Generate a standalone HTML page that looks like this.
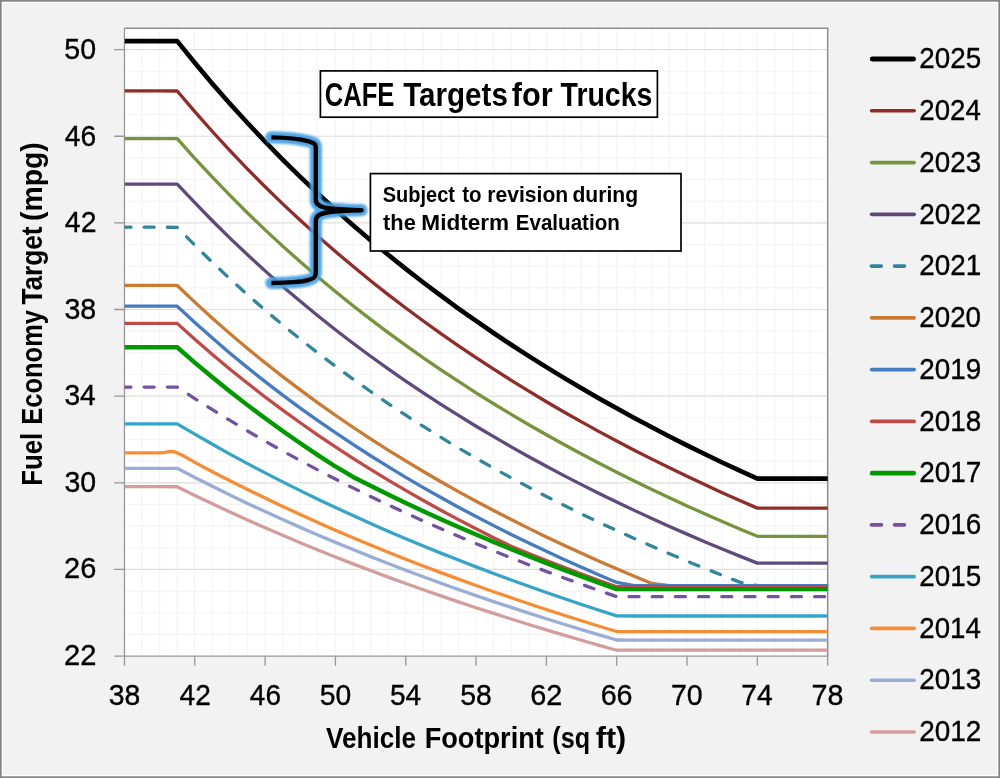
<!DOCTYPE html>
<html lang="en"><head><meta charset="utf-8"><title>CAFE Targets for Trucks</title>
<style>html,body{margin:0;padding:0;background:#f2f2f2;}body{width:1000px;height:778px;overflow:hidden;}svg{display:block;}text{font-family:"Liberation Sans",Arial,sans-serif;}</style>
</head><body>
<svg width="1000" height="778" viewBox="0 0 1000 778">
<defs><filter id="glow" x="-30%" y="-30%" width="160%" height="160%"><feGaussianBlur stdDeviation="1.2"/></filter>
<clipPath id="plotclip"><rect x="124.47" y="28.30" width="703.80" height="627.77"/></clipPath></defs>
<rect x="0" y="0" width="1000" height="778" fill="#868686"/>
<rect x="1.7" y="1.7" width="996.6" height="774.6" fill="#ffffff"/>
<rect x="3" y="3" width="994" height="772" fill="#f2f2f2"/>
<rect x="124.47" y="28.30" width="703.20" height="627.77" fill="#ffffff"/>
<path d="M142.05 28.30V656.07M159.63 28.30V656.07M177.21 28.30V656.07M194.79 28.30V656.07M212.37 28.30V656.07M229.95 28.30V656.07M247.53 28.30V656.07M265.11 28.30V656.07M282.69 28.30V656.07M300.27 28.30V656.07M317.85 28.30V656.07M335.43 28.30V656.07M353.01 28.30V656.07M370.59 28.30V656.07M388.17 28.30V656.07M405.75 28.30V656.07M423.33 28.30V656.07M440.91 28.30V656.07M458.49 28.30V656.07M476.07 28.30V656.07M493.65 28.30V656.07M511.23 28.30V656.07M528.81 28.30V656.07M546.39 28.30V656.07M563.97 28.30V656.07M581.55 28.30V656.07M599.13 28.30V656.07M616.71 28.30V656.07M634.29 28.30V656.07M651.87 28.30V656.07M669.45 28.30V656.07M687.03 28.30V656.07M704.61 28.30V656.07M722.19 28.30V656.07M739.77 28.30V656.07M757.35 28.30V656.07M774.93 28.30V656.07M792.51 28.30V656.07M810.09 28.30V656.07M124.47 634.41H827.67M124.47 612.75H827.67M124.47 591.09H827.67M124.47 547.77H827.67M124.47 526.11H827.67M124.47 504.45H827.67M124.47 461.13H827.67M124.47 439.47H827.67M124.47 417.81H827.67M124.47 374.49H827.67M124.47 352.83H827.67M124.47 331.17H827.67M124.47 287.85H827.67M124.47 266.19H827.67M124.47 244.53H827.67M124.47 201.21H827.67M124.47 179.55H827.67M124.47 157.89H827.67M124.47 114.57H827.67M124.47 92.91H827.67M124.47 71.25H827.67" stroke="#f4f4f4" stroke-width="1.1" fill="none"/>
<path d="M124.47 569.43H827.67M124.47 482.79H827.67M124.47 396.15H827.67M124.47 309.51H827.67M124.47 222.87H827.67M124.47 136.23H827.67M124.47 49.59H827.67" stroke="#dedede" stroke-width="1.2" fill="none"/>
<path d="M124.47 28.30H827.67V656.07" stroke="#8e8e8e" stroke-width="1.5" fill="none"/>
<path d="M124.47 28.30V656.07M124.47 656.07H827.67M114.17 656.07H124.47M114.17 569.43H124.47M114.17 482.79H124.47M114.17 396.15H124.47M114.17 309.51H124.47M114.17 222.87H124.47M114.17 136.23H124.47M114.17 49.59H124.47M124.47 656.07V665.87M194.79 656.07V665.87M265.11 656.07V665.87M335.43 656.07V665.87M405.75 656.07V665.87M476.07 656.07V665.87M546.39 656.07V665.87M616.71 656.07V665.87M687.03 656.07V665.87M757.35 656.07V665.87M827.67 656.07V665.87" stroke="#979797" stroke-width="1.3" fill="none"/>
<g clip-path="url(#plotclip)" fill="none" stroke-linejoin="round">
<polyline points="124.47,41.14 142.05,41.14 159.63,41.14 177.21,41.14 194.79,62.80 212.37,83.65 229.95,103.71 247.53,123.01 265.11,141.60 282.69,159.52 300.27,176.80 317.85,193.48 335.43,209.59 353.01,225.16 370.59,240.20 388.17,254.76 405.75,268.85 423.33,282.49 440.91,295.71 458.49,308.53 476.07,320.96 493.65,333.02 511.23,344.72 528.81,356.09 546.39,367.14 563.97,377.87 581.55,388.31 599.13,398.46 616.71,408.34 634.29,417.96 651.87,427.33 669.45,436.45 687.03,445.34 704.61,454.01 722.19,462.46 739.77,470.70 757.35,478.67 774.93,478.67 792.51,478.67 810.09,478.67 827.67,478.67" stroke="#000000" stroke-width="4.6"/>
<polyline points="124.47,90.96 142.05,90.96 159.63,90.96 177.21,90.99 194.79,111.66 212.37,131.53 229.95,150.63 247.53,169.02 265.11,186.74 282.69,203.81 300.27,220.28 317.85,236.18 335.43,251.53 353.01,266.36 370.59,280.71 388.17,294.58 405.75,308.01 423.33,321.02 440.91,333.62 458.49,345.84 476.07,357.69 493.65,369.19 511.23,380.35 528.81,391.19 546.39,401.72 563.97,411.96 581.55,421.91 599.13,431.60 616.71,441.02 634.29,450.19 651.87,459.12 669.45,467.83 687.03,476.31 704.61,484.57 722.19,492.63 739.77,500.49 757.35,508.13 774.93,508.13 792.51,508.13 810.09,508.13 827.67,508.13" stroke="#8f2d2a" stroke-width="3.3"/>
<polyline points="124.47,138.61 142.05,138.61 159.63,138.61 177.21,138.62 194.79,158.31 212.37,177.23 229.95,195.44 247.53,212.96 265.11,229.84 282.69,246.11 300.27,261.81 317.85,276.96 335.43,291.59 353.01,305.73 370.59,319.40 388.17,332.63 405.75,345.43 423.33,357.83 440.91,369.84 458.49,381.49 476.07,392.79 493.65,403.75 511.23,414.40 528.81,424.73 546.39,434.78 563.97,444.54 581.55,454.03 599.13,463.27 616.71,472.25 634.29,481.00 651.87,489.52 669.45,497.82 687.03,505.91 704.61,513.79 722.19,521.48 739.77,528.98 757.35,536.29 774.93,536.29 792.51,536.29 810.09,536.29 827.67,536.29" stroke="#77933c" stroke-width="3.3"/>
<polyline points="124.47,184.10 142.05,184.10 159.63,184.10 177.21,184.10 194.79,202.71 212.37,220.75 229.95,238.10 247.53,254.80 265.11,270.88 282.69,286.39 300.27,301.35 317.85,315.80 335.43,329.74 353.01,343.22 370.59,356.26 388.17,368.87 405.75,381.08 423.33,392.90 440.91,404.36 458.49,415.46 476.07,426.24 493.65,436.69 511.23,446.84 528.81,456.70 546.39,466.28 563.97,475.59 581.55,484.65 599.13,493.45 616.71,502.03 634.29,510.37 651.87,518.50 669.45,526.42 687.03,534.13 704.61,541.65 722.19,548.99 739.77,556.14 757.35,563.13 774.93,563.15 792.51,563.15 810.09,563.15 827.67,563.15" stroke="#604a7b" stroke-width="3.3"/>
<polyline points="124.47,227.20 142.05,227.20 159.63,227.20 177.21,227.30 194.79,245.18 212.37,262.36 229.95,278.89 247.53,294.81 265.11,310.14 282.69,324.92 300.27,339.18 317.85,352.95 335.43,366.24 353.01,379.09 370.59,391.52 388.17,403.54 405.75,415.18 423.33,426.45 440.91,437.38 458.49,447.97 476.07,458.24 493.65,468.21 511.23,477.89 528.81,487.29 546.39,496.43 563.97,505.31 581.55,513.94 599.13,522.35 616.71,530.52 634.29,538.48 651.87,546.23 669.45,553.79 687.03,561.15 704.61,568.32 722.19,575.32 739.77,582.15 757.35,585.68 774.93,585.68 792.51,585.68 810.09,585.68 827.67,585.68" stroke="#31859c" stroke-width="3.3" stroke-dasharray="10 13.2" stroke-dashoffset="3.5" stroke-linecap="round"/>
<polyline points="124.47,285.47 142.05,285.47 159.63,285.47 177.21,285.47 194.79,302.13 212.37,318.18 229.95,333.62 247.53,348.49 265.11,362.81 282.69,376.62 300.27,389.94 317.85,402.81 335.43,415.23 353.01,427.24 370.59,438.85 388.17,450.08 405.75,460.96 423.33,471.50 440.91,481.71 458.49,491.61 476.07,501.21 493.65,510.53 511.23,519.58 528.81,528.37 546.39,536.91 563.97,545.22 581.55,553.29 599.13,561.15 616.71,568.79 634.29,576.24 651.87,583.48 669.45,585.68 687.03,585.68 704.61,585.68 722.19,585.68 739.77,585.68 757.35,585.68 774.93,585.68 792.51,585.68 810.09,585.68 827.67,585.68" stroke="#c97a33" stroke-width="3.3"/>
<polyline points="124.47,306.04 142.05,306.04 159.63,306.04 177.21,306.17 194.79,322.45 212.37,338.09 229.95,353.14 247.53,367.64 265.11,381.60 282.69,395.07 300.27,408.05 317.85,420.59 335.43,432.71 353.01,444.41 370.59,455.74 388.17,466.69 405.75,477.30 423.33,487.57 440.91,497.53 458.49,507.18 476.07,516.55 493.65,525.64 511.23,534.46 528.81,543.03 546.39,551.36 563.97,559.46 581.55,567.34 599.13,575.00 616.71,582.45 634.29,585.68 651.87,585.68 669.45,585.68 687.03,585.68 704.61,585.68 722.19,585.68 739.77,585.68 757.35,585.68 774.93,585.68 792.51,585.68 810.09,585.68 827.67,585.68" stroke="#457bbf" stroke-width="3.3"/>
<polyline points="124.47,323.37 142.05,323.37 159.63,323.37 177.21,323.37 194.79,339.20 212.37,354.47 229.95,369.17 247.53,383.32 265.11,396.95 282.69,410.10 300.27,422.78 317.85,435.03 335.43,446.86 353.01,458.30 370.59,469.36 388.17,480.07 405.75,490.44 423.33,500.48 440.91,510.21 458.49,519.65 476.07,528.80 493.65,537.69 511.23,546.31 528.81,553.64 546.39,560.59 563.97,567.38 581.55,574.00 599.13,580.48 616.71,586.76 634.29,586.76 651.87,586.76 669.45,586.76 687.03,586.76 704.61,586.76 722.19,586.76 739.77,586.76 757.35,586.76 774.93,586.76 792.51,586.76 810.09,586.76 827.67,586.76" stroke="#be4b48" stroke-width="3.3"/>
<polyline points="124.47,347.20 142.05,347.20 159.63,347.20 177.21,347.28 194.79,362.59 212.37,377.31 229.95,391.48 247.53,405.13 265.11,418.29 282.69,430.98 300.27,443.22 317.85,455.05 335.43,466.48 353.01,476.93 370.59,485.83 388.17,494.50 405.75,502.93 423.33,511.14 440.91,519.14 458.49,526.94 476.07,534.54 493.65,541.96 511.23,549.19 528.81,556.24 546.39,563.13 563.97,569.86 581.55,576.43 599.13,582.84 616.71,589.11 634.29,589.14 651.87,589.14 669.45,589.14 687.03,589.14 704.61,589.14 722.19,589.14 739.77,589.14 757.35,589.14 774.93,589.14 792.51,589.14 810.09,589.14 827.67,589.14" stroke="#009900" stroke-width="4.4"/>
<polyline points="124.47,387.05 142.05,387.05 159.63,387.05 177.21,387.05 194.79,398.51 212.37,409.65 229.95,420.45 247.53,430.94 265.11,441.12 282.69,451.01 300.27,460.62 317.85,469.97 335.43,479.06 353.01,487.90 370.59,496.51 388.17,504.89 405.75,513.05 423.33,521.00 440.91,528.75 458.49,536.31 476.07,543.68 493.65,550.87 511.23,557.89 528.81,564.74 546.39,571.42 563.97,577.96 581.55,584.34 599.13,590.58 616.71,596.67 634.29,596.72 651.87,596.72 669.45,596.72 687.03,596.72 704.61,596.72 722.19,596.72 739.77,596.72 757.35,596.72 774.93,596.72 792.51,596.72 810.09,596.72 827.67,596.72" stroke="#7352a0" stroke-width="3.3" stroke-dasharray="10 13.2" stroke-dashoffset="3.5" stroke-linecap="round"/>
<polyline points="124.47,423.87 142.05,423.87 159.63,423.87 177.21,423.87 194.79,434.18 212.37,444.27 229.95,454.07 247.53,463.60 265.11,472.86 282.69,481.87 300.27,490.64 317.85,499.17 335.43,507.48 353.01,515.58 370.59,523.46 388.17,531.15 405.75,538.65 423.33,545.96 440.91,553.10 458.49,560.06 476.07,566.86 493.65,573.50 511.23,579.98 528.81,586.32 546.39,592.51 563.97,598.56 581.55,604.48 599.13,610.27 616.71,615.94 634.29,616.00 651.87,616.00 669.45,616.00 687.03,616.00 704.61,616.00 722.19,616.00 739.77,616.00 757.35,616.00 774.93,616.00 792.51,616.00 810.09,616.00 827.67,616.00" stroke="#38a4c5" stroke-width="3.3"/>
<polyline points="124.47,452.90 142.05,452.90 159.63,452.90 164.02,452.68 167.54,451.82 171.06,451.27 174.57,451.82 177.21,452.90 182.48,455.28 194.79,462.38 212.37,471.68 229.95,480.72 247.53,489.52 265.11,498.08 282.69,506.42 300.27,514.54 317.85,522.46 335.43,530.17 353.01,537.69 370.59,545.03 388.17,552.19 405.75,559.17 423.33,565.99 440.91,572.65 458.49,579.15 476.07,585.51 493.65,591.72 511.23,597.79 528.81,603.72 546.39,609.53 563.97,615.21 581.55,620.77 599.13,626.21 616.71,631.53 634.29,631.59 651.87,631.59 669.45,631.59 687.03,631.59 704.61,631.59 722.19,631.59 739.77,631.59 757.35,631.59 774.93,631.59 792.51,631.59 810.09,631.59 827.67,631.59" stroke="#f68d36" stroke-width="3.3"/>
<polyline points="124.47,468.28 142.05,468.28 159.63,468.28 177.21,468.31 194.79,477.44 212.37,486.33 229.95,494.98 247.53,503.40 265.11,511.60 282.69,519.59 300.27,527.37 317.85,534.96 335.43,542.37 353.01,549.59 370.59,556.64 388.17,563.52 405.75,570.23 423.33,576.79 440.91,583.20 458.49,589.46 476.07,595.58 493.65,601.57 511.23,607.42 528.81,613.15 546.39,618.75 563.97,624.23 581.55,629.60 599.13,634.85 616.71,640.00 634.29,640.04 651.87,640.04 669.45,640.04 687.03,640.04 704.61,640.04 722.19,640.04 739.77,640.04 757.35,640.04 774.93,640.04 792.51,640.04 810.09,640.04 827.67,640.04" stroke="#9aadd4" stroke-width="3.3"/>
<polyline points="124.47,486.69 142.05,486.69 159.63,486.69 177.21,486.77 194.79,495.40 212.37,503.81 229.95,512.00 247.53,519.98 265.11,527.76 282.69,535.34 300.27,542.73 317.85,549.95 335.43,556.99 353.01,563.86 370.59,570.56 388.17,577.12 405.75,583.52 423.33,589.77 440.91,595.89 458.49,601.87 476.07,607.71 493.65,613.43 511.23,619.03 528.81,624.50 546.39,629.87 563.97,635.11 581.55,640.25 599.13,645.29 616.71,650.22 634.29,650.22 651.87,650.22 669.45,650.22 687.03,650.22 704.61,650.22 722.19,650.22 739.77,650.22 757.35,650.22 774.93,650.22 792.51,650.22 810.09,650.22 827.67,650.22" stroke="#d29d9d" stroke-width="3.3"/>
</g>
<text x="64.03" y="664.57" font-size="30.00" stroke="#000" stroke-width="0.35" textLength="32.43" lengthAdjust="spacingAndGlyphs" fill="#000">22</text>
<text x="64.04" y="578.12" font-size="30.00" stroke="#000" stroke-width="0.35" textLength="32.23" lengthAdjust="spacingAndGlyphs" fill="#000">26</text>
<text x="64.41" y="491.66" font-size="30.00" stroke="#000" stroke-width="0.35" textLength="31.70" lengthAdjust="spacingAndGlyphs" fill="#000">30</text>
<text x="64.42" y="405.21" font-size="30.00" stroke="#000" stroke-width="0.35" textLength="31.40" lengthAdjust="spacingAndGlyphs" fill="#000">34</text>
<text x="64.41" y="318.75" font-size="30.00" stroke="#000" stroke-width="0.35" textLength="31.83" lengthAdjust="spacingAndGlyphs" fill="#000">38</text>
<text x="64.85" y="232.30" font-size="30.00" stroke="#000" stroke-width="0.35" textLength="31.58" lengthAdjust="spacingAndGlyphs" fill="#000">42</text>
<text x="64.85" y="145.84" font-size="30.00" stroke="#000" stroke-width="0.35" textLength="31.39" lengthAdjust="spacingAndGlyphs" fill="#000">46</text>
<text x="64.36" y="59.39" font-size="30.00" stroke="#000" stroke-width="0.35" textLength="31.76" lengthAdjust="spacingAndGlyphs" fill="#000">50</text>
<text x="108.79" y="705.30" font-size="30.00" stroke="#000" stroke-width="0.35" textLength="31.51" lengthAdjust="spacingAndGlyphs" fill="#000">38</text>
<text x="179.55" y="705.30" font-size="30.00" stroke="#000" stroke-width="0.35" textLength="31.26" lengthAdjust="spacingAndGlyphs" fill="#000">42</text>
<text x="249.87" y="705.30" font-size="30.00" stroke="#000" stroke-width="0.35" textLength="31.07" lengthAdjust="spacingAndGlyphs" fill="#000">46</text>
<text x="319.70" y="705.30" font-size="30.00" stroke="#000" stroke-width="0.35" textLength="31.44" lengthAdjust="spacingAndGlyphs" fill="#000">50</text>
<text x="390.03" y="705.30" font-size="30.00" stroke="#000" stroke-width="0.35" textLength="31.14" lengthAdjust="spacingAndGlyphs" fill="#000">54</text>
<text x="460.33" y="705.30" font-size="30.00" stroke="#000" stroke-width="0.35" textLength="31.57" lengthAdjust="spacingAndGlyphs" fill="#000">58</text>
<text x="530.32" y="705.30" font-size="30.00" stroke="#000" stroke-width="0.35" textLength="32.12" lengthAdjust="spacingAndGlyphs" fill="#000">62</text>
<text x="600.65" y="705.30" font-size="30.00" stroke="#000" stroke-width="0.35" textLength="31.92" lengthAdjust="spacingAndGlyphs" fill="#000">66</text>
<text x="670.97" y="705.30" font-size="30.00" stroke="#000" stroke-width="0.35" textLength="31.78" lengthAdjust="spacingAndGlyphs" fill="#000">70</text>
<text x="741.30" y="705.30" font-size="30.00" stroke="#000" stroke-width="0.35" textLength="31.48" lengthAdjust="spacingAndGlyphs" fill="#000">74</text>
<text x="811.60" y="705.30" font-size="30.00" stroke="#000" stroke-width="0.35" textLength="31.92" lengthAdjust="spacingAndGlyphs" fill="#000">78</text>
<text x="325.92" y="747.90" font-size="28.60" font-weight="bold" textLength="90.05" lengthAdjust="spacingAndGlyphs" fill="#000">Vehicle</text>
<text x="424.68" y="747.90" font-size="28.60" font-weight="bold" textLength="119.15" lengthAdjust="spacingAndGlyphs" fill="#000">Footprint</text>
<text x="552.34" y="747.90" font-size="28.60" font-weight="bold" textLength="37.84" lengthAdjust="spacingAndGlyphs" fill="#000">(sq</text>
<text x="595.78" y="747.90" font-size="28.60" font-weight="bold" textLength="30.55" lengthAdjust="spacingAndGlyphs" fill="#000">ft)</text>
<g transform="translate(41.8 500) rotate(-90)">
<text x="14.17" y="0.00" font-size="28.60" font-weight="bold" textLength="53.05" lengthAdjust="spacingAndGlyphs" fill="#000">Fuel</text>
<text x="75.29" y="0.00" font-size="28.60" font-weight="bold" textLength="114.74" lengthAdjust="spacingAndGlyphs" fill="#000">Economy</text>
<text x="195.41" y="0.00" font-size="28.60" font-weight="bold" textLength="78.10" lengthAdjust="spacingAndGlyphs" fill="#000">Target</text>
<text x="278.99" y="0.00" font-size="28.60" font-weight="bold" textLength="78.72" lengthAdjust="spacingAndGlyphs" fill="#000">(mpg)</text>
</g>
<rect x="320.4" y="70.9" width="337" height="46.3" fill="#fff" stroke="#000" stroke-width="1.7"/>
<text x="324.65" y="105.90" font-size="32.90" font-weight="bold" textLength="69.75" lengthAdjust="spacingAndGlyphs" fill="#000">CAFE</text>
<text x="403.17" y="105.90" font-size="32.90" font-weight="bold" textLength="104.71" lengthAdjust="spacingAndGlyphs" fill="#000">Targets</text>
<text x="511.78" y="105.90" font-size="32.90" font-weight="bold" textLength="40.89" lengthAdjust="spacingAndGlyphs" fill="#000">for</text>
<text x="560.59" y="105.90" font-size="32.90" font-weight="bold" textLength="91.76" lengthAdjust="spacingAndGlyphs" fill="#000">Trucks</text>
<rect x="370.4" y="173.6" width="310.6" height="77.4" fill="#fff" stroke="#000" stroke-width="1.7"/>
<text x="382.72" y="202.10" font-size="21.30" font-weight="bold" textLength="72.22" lengthAdjust="spacingAndGlyphs" fill="#000">Subject</text>
<text x="462.25" y="202.10" font-size="21.30" font-weight="bold" textLength="19.35" lengthAdjust="spacingAndGlyphs" fill="#000">to</text>
<text x="487.21" y="202.10" font-size="21.30" font-weight="bold" textLength="81.00" lengthAdjust="spacingAndGlyphs" fill="#000">revision</text>
<text x="572.44" y="202.10" font-size="21.30" font-weight="bold" textLength="65.58" lengthAdjust="spacingAndGlyphs" fill="#000">during</text>
<text x="383.03" y="230.40" font-size="21.30" font-weight="bold" textLength="32.81" lengthAdjust="spacingAndGlyphs" fill="#000">the</text>
<text x="421.39" y="230.40" font-size="21.30" font-weight="bold" textLength="87.81" lengthAdjust="spacingAndGlyphs" fill="#000">Midterm</text>
<text x="515.72" y="230.40" font-size="21.30" font-weight="bold" textLength="104.16" lengthAdjust="spacingAndGlyphs" fill="#000">Evaluation</text>
<path d="M271.4 137.4C285 137.6 300 139 308 141.2C314.6 143 315.8 144 315.8 147.2V200C315.8 204.5 320 207.4 330 208.5C340 209.5 350 210 361.6 210.2C350 210.4 340 210.9 330 212C320 213.1 315.8 216 315.8 220.5V273C315.8 276.6 314.4 278.4 308 280.2C300 282.2 285 282.9 271.4 283" fill="none" stroke="#459fe3" stroke-width="12.2" stroke-linecap="round" stroke-linejoin="round" filter="url(#glow)" opacity="0.92"/>
<path d="M271.4 137.4C285 137.6 300 139 308 141.2C314.6 143 315.8 144 315.8 147.2V200C315.8 204.5 320 207.4 330 208.5C340 209.5 350 210 361.6 210.2C350 210.4 340 210.9 330 212C320 213.1 315.8 216 315.8 220.5V273C315.8 276.6 314.4 278.4 308 280.2C300 282.2 285 282.9 271.4 283" fill="none" stroke="#000" stroke-width="4.4" stroke-linecap="butt" stroke-linejoin="round"/>
<path d="M872.25 59.06H913.55" stroke="#000000" stroke-width="4.9" stroke-linecap="round" fill="none"/>
<text x="919.30" y="68.36" font-size="30.00" stroke="#000" stroke-width="0.35" textLength="61.87" lengthAdjust="spacingAndGlyphs" fill="#000">2025</text>
<path d="M871.60 110.82H914.20" stroke="#8f2d2a" stroke-width="3.6" stroke-linecap="round" fill="none"/>
<text x="919.31" y="120.12" font-size="30.00" stroke="#000" stroke-width="0.35" textLength="61.50" lengthAdjust="spacingAndGlyphs" fill="#000">2024</text>
<path d="M871.60 162.58H914.20" stroke="#77933c" stroke-width="3.6" stroke-linecap="round" fill="none"/>
<text x="919.30" y="171.88" font-size="30.00" stroke="#000" stroke-width="0.35" textLength="61.92" lengthAdjust="spacingAndGlyphs" fill="#000">2023</text>
<path d="M871.60 214.34H914.20" stroke="#604a7b" stroke-width="3.6" stroke-linecap="round" fill="none"/>
<text x="919.30" y="223.64" font-size="30.00" stroke="#000" stroke-width="0.35" textLength="62.11" lengthAdjust="spacingAndGlyphs" fill="#000">2022</text>
<path d="M871.4 266.10H915" stroke="#31859c" stroke-width="3.6" stroke-dasharray="10 13.1" stroke-linecap="round" fill="none"/>
<text x="919.30" y="275.40" font-size="30.00" stroke="#000" stroke-width="0.35" textLength="62.07" lengthAdjust="spacingAndGlyphs" fill="#000">2021</text>
<path d="M871.60 317.86H914.20" stroke="#c97a33" stroke-width="3.6" stroke-linecap="round" fill="none"/>
<text x="919.30" y="327.16" font-size="30.00" stroke="#000" stroke-width="0.35" textLength="61.78" lengthAdjust="spacingAndGlyphs" fill="#000">2020</text>
<path d="M871.60 369.62H914.20" stroke="#457bbf" stroke-width="3.6" stroke-linecap="round" fill="none"/>
<text x="919.30" y="378.92" font-size="30.00" stroke="#000" stroke-width="0.35" textLength="62.02" lengthAdjust="spacingAndGlyphs" fill="#000">2019</text>
<path d="M871.60 421.38H914.20" stroke="#be4b48" stroke-width="3.6" stroke-linecap="round" fill="none"/>
<text x="919.30" y="430.68" font-size="30.00" stroke="#000" stroke-width="0.35" textLength="61.91" lengthAdjust="spacingAndGlyphs" fill="#000">2018</text>
<path d="M872.15 473.14H913.65" stroke="#009900" stroke-width="4.7" stroke-linecap="round" fill="none"/>
<text x="919.30" y="482.44" font-size="30.00" stroke="#000" stroke-width="0.35" textLength="62.11" lengthAdjust="spacingAndGlyphs" fill="#000">2017</text>
<path d="M871.4 524.90H915" stroke="#7352a0" stroke-width="3.6" stroke-dasharray="10 13.1" stroke-linecap="round" fill="none"/>
<text x="919.30" y="534.20" font-size="30.00" stroke="#000" stroke-width="0.35" textLength="61.92" lengthAdjust="spacingAndGlyphs" fill="#000">2016</text>
<path d="M871.60 576.66H914.20" stroke="#38a4c5" stroke-width="3.6" stroke-linecap="round" fill="none"/>
<text x="919.30" y="585.96" font-size="30.00" stroke="#000" stroke-width="0.35" textLength="61.87" lengthAdjust="spacingAndGlyphs" fill="#000">2015</text>
<path d="M871.60 628.42H914.20" stroke="#f68d36" stroke-width="3.6" stroke-linecap="round" fill="none"/>
<text x="919.31" y="637.72" font-size="30.00" stroke="#000" stroke-width="0.35" textLength="61.50" lengthAdjust="spacingAndGlyphs" fill="#000">2014</text>
<path d="M871.60 680.18H914.20" stroke="#9aadd4" stroke-width="3.6" stroke-linecap="round" fill="none"/>
<text x="919.30" y="689.48" font-size="30.00" stroke="#000" stroke-width="0.35" textLength="61.92" lengthAdjust="spacingAndGlyphs" fill="#000">2013</text>
<path d="M871.60 731.94H914.20" stroke="#d29d9d" stroke-width="3.6" stroke-linecap="round" fill="none"/>
<text x="919.30" y="741.24" font-size="30.00" stroke="#000" stroke-width="0.35" textLength="62.11" lengthAdjust="spacingAndGlyphs" fill="#000">2012</text>
</svg>
</body></html>
